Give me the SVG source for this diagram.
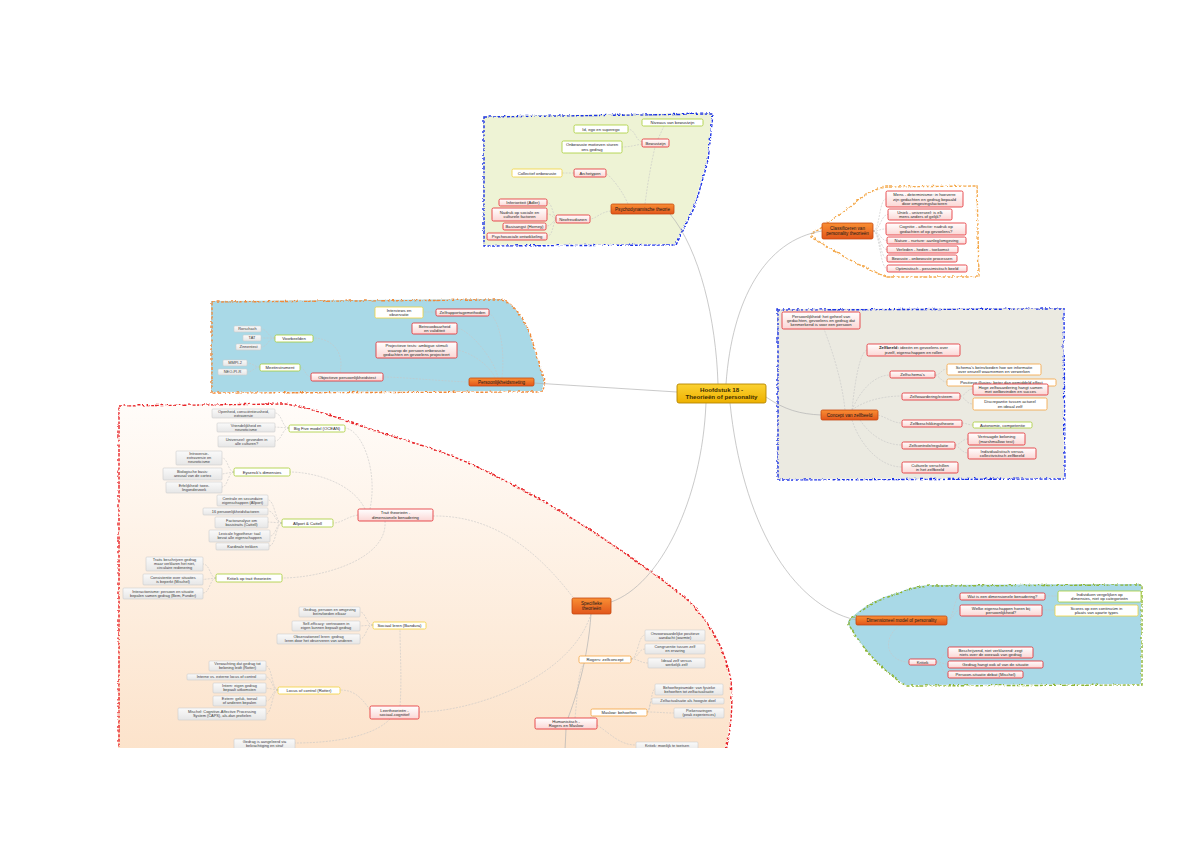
<svg xmlns="http://www.w3.org/2000/svg" width="1200" height="848" viewBox="0 0 1200 848">
<style>
text{font-family:"Liberation Sans",Arial,sans-serif;text-anchor:middle;fill:#262626;font-size:4.2px}
.m text{font-size:4.6px;fill:#1a1a1a}
.s text{font-size:3.9px;fill:#3a3a3a}
.red rect{fill:url(#gRed);stroke:#e2262b;stroke-width:0.8}
.grn rect{fill:#fff;stroke:#a6cd33;stroke-width:0.8}
.yel rect{fill:#fff;stroke:#f1d23a;stroke-width:0.8}
.org rect{fill:#fff;stroke:#f4a23c;stroke-width:0.8}
.s rect{fill:url(#gGray);stroke:#cdcdcd;stroke-width:0.6}
.m rect{fill:url(#gOrange);stroke:#c4480f;stroke-width:0.8}
.ctr rect{fill:url(#gGold);stroke:#b58700;stroke-width:0.9}
.ctr text{font-size:6.2px;font-weight:bold;fill:#3a2b00}
.c{fill:none;stroke:#c6c6c6;stroke-width:0.6;stroke-dasharray:2 1.2}
.cs{fill:none;stroke:#b3b3b3;stroke-width:0.7}
.bd{fill:none;stroke-width:1.4;stroke-dasharray:3 1.6;filter:url(#wave)}
</style>
<defs>
<linearGradient id="gRed" x1="0" y1="0" x2="0" y2="1"><stop offset="0" stop-color="#ffffff"/><stop offset="1" stop-color="#fbd6d4"/></linearGradient>
<linearGradient id="gGray" x1="0" y1="0" x2="0" y2="1"><stop offset="0" stop-color="#fafafa"/><stop offset="1" stop-color="#e6e6e6"/></linearGradient>
<linearGradient id="gOrange" x1="0" y1="0" x2="0" y2="1"><stop offset="0" stop-color="#f98f34"/><stop offset="1" stop-color="#e2561b"/></linearGradient>
<linearGradient id="gGold" x1="0" y1="0" x2="0" y2="1"><stop offset="0" stop-color="#fbd233"/><stop offset="1" stop-color="#eeb100"/></linearGradient>
<linearGradient id="gPeach" x1="0" y1="0" x2="0" y2="1"><stop offset="0" stop-color="#fffcf9"/><stop offset="1" stop-color="#fce3cb"/></linearGradient>
<filter id="wave" x="-5%" y="-5%" width="110%" height="110%"><feTurbulence type="turbulence" baseFrequency="0.25" numOctaves="1" seed="4" result="n"/><feDisplacementMap in="SourceGraphic" in2="n" scale="2" xChannelSelector="R" yChannelSelector="G"/></filter>
<clipPath id="page"><rect x="0" y="0" width="1200" height="748"/></clipPath>
</defs>
<rect x="0" y="0" width="1200" height="848" fill="#fff"/>
<g clip-path="url(#page)">
<g id="regions">
<path d="M483,116 L712,113 L707,160 L694,205 L675,244 L483,245 Z" fill="#eef3d5"/>
<path class="bd" d="M483,116 L712,113 L707,160 L694,205 L675,244 L483,245 Z" stroke="#1f35e6"/>
<path d="M811,233 Q840,214 858,199 Q870,189 885,186 L976,185 L978,276 L886,276 Q850,262 811,236 Z" fill="#fff"/>
<path class="bd" d="M811,233 Q840,214 858,199 Q870,189 885,186 L976,185 L978,276 L886,276 Q850,262 811,236 Z" stroke="#f4a94c"/>
<path d="M777,309 L1063,308 L1064,478 L777,479 Z" fill="#ebeae1"/>
<path class="bd" d="M777,309 L1063,308 L1064,478 L777,479 Z" stroke="#1f35e6"/>
<path d="M211,301 L500,299 Q515,302 528,330 L544,380 L542,391 L211,392 Z" fill="#a9d9e7"/>
<path class="bd" d="M211,301 L500,299 Q515,302 528,330 L544,380 L542,391 L211,392 Z" stroke="#f08a3a"/>
<path d="M848,621 Q868,600 900,592 Q912,586 930,585 L1141,584 L1141,684 L905,685 Q870,662 848,624 Z" fill="#a9d9e7"/>
<path class="bd" d="M848,621 Q868,600 900,592 Q912,586 930,585 L1141,584 L1141,684 L905,685 Q870,662 848,624 Z" stroke="#8db535"/>
<path d="M118,405 L285,403 Q320,410 345,420 Q380,432 410,441 Q440,450 470,463 Q540,496 600,536 Q660,576 690,602 Q722,636 730,680 Q733,715 725,750 L118,750 Z" fill="url(#gPeach)"/>
<path class="bd" d="M118,750 L118,405 L285,403 Q320,410 345,420 Q380,432 410,441 Q440,450 470,463 Q540,496 600,536 Q660,576 690,602 Q722,636 730,680 Q733,715 725,750" stroke="#e8262a"/>
</g>
<g id="connectors">
<path class="cs" d="M670,214 C700,250 716,320 718,384"/>
<path class="cs" d="M726,384 C732,300 765,240 822,231"/>
<path class="cs" d="M766,397 C785,410 800,414 821,415"/>
<path class="cs" d="M730,403 C742,520 790,605 856,620"/>
<path class="cs" d="M677,392 L534,383"/>
<path class="cs" d="M706,403 C702,500 660,585 611,602"/>
<path class="c" d="M645,204 C648,180 652,160 655,147"/>
<path class="c" d="M658,139 L664,126"/>
<path class="c" d="M642,142 C635,140 636,130 628,129"/>
<path class="c" d="M642,144 C636,145 630,147 622,147"/>
<path class="c" d="M628,204 C622,190 612,178 606,173"/>
<path class="c" d="M574,173 L562,173"/>
<path class="c" d="M611,211 C600,212 596,219 590,219"/>
<path class="c" d="M556,219 C552,212 552,203 547,202"/>
<path class="c" d="M556,219 C552,217 552,214 547,214"/>
<path class="c" d="M556,219 C552,222 552,226 546,226"/>
<path class="c" d="M556,219 C552,226 553,236 547,236"/>
<path class="c" d="M873,231 C880,231 879,199 886,199"/>
<path class="c" d="M873,231 C880,231 881,214.5 888,214.5"/>
<path class="c" d="M873,231 C880,231 879,229 886,229"/>
<path class="c" d="M873,231 C880,231 880,240.5 887,240.5"/>
<path class="c" d="M873,231 C880,231 880,249.5 887,249.5"/>
<path class="c" d="M873,231 C880,231 880,258.5 887,258.5"/>
<path class="c" d="M873,231 C880,231 880,268.5 887,268.5"/>
<path class="c" d="M845,410 C842,380 832,350 824,329"/>
<path class="c" d="M852,410 C855,380 860,352 867,350"/>
<path class="c" d="M852,410 C860,390 875,375 890,375"/>
<path class="c" d="M852,410 C865,400 885,396 902,396"/>
<path class="c" d="M878,415 C888,418 893,423 902,423"/>
<path class="c" d="M860,420 C870,435 885,445 902,445"/>
<path class="c" d="M852,420 C860,445 880,467 902,467"/>
<path class="c" d="M935,375 C941,375 941,369 947,369"/>
<path class="c" d="M935,375 C941,377 941,382 947,382"/>
<path class="c" d="M960,396 C966,396 966,389 973,389"/>
<path class="c" d="M960,396 C966,398 966,404 973,404"/>
<path class="c" d="M962,423 C966,423 968,425 973,425"/>
<path class="c" d="M955,445 C960,445 962,439 968,439"/>
<path class="c" d="M955,445 C960,447 962,453 968,453"/>
<path class="c" d="M469,382 C440,381 400,377 383,377"/>
<path class="c" d="M502,378 C505,350 500,320 489,313"/>
<path class="c" d="M498,378 C495,360 470,330 457,328"/>
<path class="c" d="M495,378 C490,365 470,352 457,350"/>
<path class="c" d="M436,312 L423,312"/>
<path class="c" d="M340,373 C345,350 330,338 313,338"/>
<path class="c" d="M311,377 C305,376 305,368 300,367"/>
<path class="c" d="M275,338 C268,338 268,329 261,329"/>
<path class="c" d="M275,338 L261,338"/>
<path class="c" d="M275,338 C268,338 268,347 261,347"/>
<path class="c" d="M260,367 C254,367 253,363 247,363"/>
<path class="c" d="M260,367 C254,367 253,372 247,372"/>
<path class="c" d="M947,620 C954,620 954,596 960,596"/>
<path class="c" d="M947,620 C954,620 954,610 960,610"/>
<path class="c" d="M900,625 C880,640 888,662 909,662"/>
<path class="c" d="M1045,596 L1058,596"/>
<path class="c" d="M1042,610 L1055,610"/>
<path class="c" d="M936,662 C942,662 942,652 948,652"/>
<path class="c" d="M936,662 C942,662 942,664 948,664"/>
<path class="c" d="M936,662 C942,662 942,674 948,674"/>
<path class="c" d="M433,516 C500,515 545,560 575,600"/>
<path class="c" d="M370,509 C378,470 362,430 345,428"/>
<path class="c" d="M365,509 C352,482 312,472 290,472"/>
<path class="c" d="M358,515 C346,517 342,523 333,523"/>
<path class="c" d="M385,521 C388,560 320,578 282,578"/>
<path class="c" d="M289,428 C282,428 282,413 275,413"/>
<path class="c" d="M289,428 L275,427"/>
<path class="c" d="M289,428 C282,428 282,441 275,441"/>
<path class="c" d="M234,472 C228,472 228,458 222,458"/>
<path class="c" d="M234,472 L222,474"/>
<path class="c" d="M234,472 C228,472 228,487 222,487"/>
<path class="c" d="M282,523 C275,523 275,500 268,500"/>
<path class="c" d="M282,523 C275,523 275,511 268,511"/>
<path class="c" d="M282,523 L268,522"/>
<path class="c" d="M282,523 C276,523 276,536 270,536"/>
<path class="c" d="M282,523 C276,523 276,546 269,546"/>
<path class="c" d="M216,578 C210,578 210,564 203,564"/>
<path class="c" d="M216,578 L203,579.5"/>
<path class="c" d="M216,578 C210,578 210,593 203,593"/>
<path class="c" d="M591,614 C570,680 470,712 419,712"/>
<path class="c" d="M400,706 C402,680 400,650 400,629"/>
<path class="c" d="M373,625 C366,625 366,612 360,612"/>
<path class="c" d="M373,625 L360,626"/>
<path class="c" d="M373,625 C366,625 366,639 360,639"/>
<path class="c" d="M370,710 C360,695 352,690 340,690"/>
<path class="c" d="M278,690 C272,690 272,666 266,666"/>
<path class="c" d="M278,690 C272,690 272,677 266,677"/>
<path class="c" d="M278,690 L266,688"/>
<path class="c" d="M278,690 C272,690 272,701 266,701"/>
<path class="c" d="M278,690 C272,690 272,714 266,714"/>
<path class="c" d="M390,719 C370,740 320,743 295,743"/>
<path class="cs" d="M591,614 C588,660 575,700 568,718"/>
<path class="cs" d="M566,729 L565,750"/>
<path class="c" d="M575,718 C578,690 578,668 585,663"/>
<path class="c" d="M590,718 C592,716 593,716 596,716"/>
<path class="c" d="M631,659 C638,659 638,635 645,635"/>
<path class="c" d="M631,659 C638,659 638,649 645,649"/>
<path class="c" d="M631,659 C639,659 640,663 648,663"/>
<path class="c" d="M647,712 C651,712 651,689 655,689"/>
<path class="c" d="M647,712 C650,712 649,701 652,701"/>
<path class="c" d="M647,712 C660,712 662,713 674,713"/>
<path class="c" d="M597,725 C612,735 620,745 636,745"/>
</g>
<g id="center" class="ctr"><rect x="677" y="384" width="89" height="19" rx="2"/><text x="721.5" y="392.3">Hoofdstuk 18 -</text><text x="721.5" y="399.1">Theorieën of personality</text></g>
<g id="g_main" class="m"><rect x="611" y="204" width="63" height="10" rx="1.5"/><text x="642.5" y="210.6">Psychodynamische theorie</text></g>
<g id="g_bew" class="red"><rect x="642" y="139" width="27" height="8" rx="1.5"/><text x="655.5" y="144.5">Bewustzijn</text></g>
<g id="g_afw" class="grn"><rect x="642" y="119" width="61" height="7" rx="1.5"/><text x="672.5" y="124">Niveaus van bewustzijn</text></g>
<g id="g_struc" class="grn"><rect x="574" y="125" width="54" height="8" rx="1.5"/><text x="601" y="130.5">Id, ego en superego</text></g>
<g id="g_onb" class="grn"><rect x="562" y="141" width="60" height="12" rx="1.5"/><text x="592" y="146.3">Onbewuste motieven sturen</text><text x="592" y="150.7">ons gedrag</text></g>
<g id="g_arch" class="red"><rect x="574" y="169" width="32" height="8" rx="1.5"/><text x="590" y="174.5">Archetypen</text></g>
<g id="g_coll" class="yel"><rect x="512" y="169" width="50" height="8" rx="1.5"/><text x="537" y="174.5">Collectief onbewuste</text></g>
<g id="g_neo" class="red"><rect x="556" y="215" width="34" height="8" rx="1.5"/><text x="573" y="220.5">Neofreudianen</text></g>
<g id="g_inf" class="red"><rect x="499" y="199" width="48" height="7" rx="1.5"/><text x="523" y="204">Inferioriteit (Adler)</text></g>
<g id="g_soc" class="red"><rect x="492" y="208" width="55" height="13" rx="1.5"/><text x="519.5" y="213.8">Nadruk op sociale en</text><text x="519.5" y="218.2">culturele factoren</text></g>
<g id="g_hor" class="red"><rect x="503" y="223" width="43" height="7" rx="1.5"/><text x="524.5" y="228">Basisangst (Horney)</text></g>
<g id="g_eri" class="red"><rect x="487" y="233" width="60" height="7" rx="1.5"/><text x="517" y="238">Psychosociale ontwikkeling</text></g>
<g id="o_main" class="m"><rect x="822" y="223" width="51" height="16" rx="1.5"/><text x="847.5" y="230.3">Classificeren van</text><text x="847.5" y="234.9">personality theorieën</text></g>
<g id="o_1" class="red"><rect x="886" y="191" width="77" height="16" rx="1.5"/><text x="924.5" y="196.1">Mens - determinisme: in hoeverre</text><text x="924.5" y="200.5">zijn gedachten en gedrag bepaald</text><text x="924.5" y="204.9">door omgevingsfactoren</text></g>
<g id="o_2" class="red"><rect x="888" y="209" width="64" height="11" rx="1.5"/><text x="920" y="213.8">Uniek - universeel: is elk</text><text x="920" y="218.2">mens anders of gelijk?</text></g>
<g id="o_3" class="red"><rect x="886" y="223" width="80" height="12" rx="1.5"/><text x="926" y="228.3">Cognitie - affectie: nadruk op</text><text x="926" y="232.7">gedachten of op gevoelens?</text></g>
<g id="o_4" class="red"><rect x="887" y="237" width="79" height="7" rx="1.5"/><text x="926.5" y="242">Nature - nurture: aanleg/omgeving</text></g>
<g id="o_5" class="red"><rect x="887" y="246" width="71" height="7" rx="1.5"/><text x="922.5" y="251">Verleden - heden - toekomst</text></g>
<g id="o_6" class="red"><rect x="887" y="255" width="70" height="7" rx="1.5"/><text x="922" y="260">Bewuste - onbewuste processen</text></g>
<g id="o_7" class="red"><rect x="887" y="265" width="80" height="7" rx="1.5"/><text x="927" y="270">Optimistisch - pessimistisch beeld</text></g>
<g id="c_main" class="m"><rect x="821" y="410" width="57" height="10" rx="1.5"/><text x="849.5" y="416.6">Concept van zelfbeeld</text></g>
<g id="c_pers" class="red"><rect x="782" y="312" width="78" height="17" rx="1.5"/><text x="821" y="317.6">Persoonlijkheid: het geheel van</text><text x="821" y="322">gedachten, gevoelens en gedrag dat</text><text x="821" y="326.4">kenmerkend is voor een persoon</text></g>
<g id="c_zb" class="red"><rect x="867" y="344" width="93" height="12" rx="1.5"/><text x="913.5" y="349.3"><tspan font-weight="bold">Zelfbeeld:</tspan> ideeën en gevoelens over</text><text x="913.5" y="353.7">jezelf, eigenschappen en rollen</text></g>
<g id="c_sch" class="red"><rect x="890" y="371" width="45" height="7" rx="1.5"/><text x="912.5" y="376">Zelfschema's</text></g>
<g id="c_zw" class="red"><rect x="902" y="393" width="58" height="7" rx="1.5"/><text x="931" y="398">Zelfwaardering/esteem</text></g>
<g id="c_zbs" class="red"><rect x="902" y="420" width="60" height="7" rx="1.5"/><text x="932" y="425">Zelfbeschikkingstheorie</text></g>
<g id="c_zr" class="red"><rect x="902" y="442" width="53" height="7" rx="1.5"/><text x="928.5" y="447">Zelfcontrole/regulatie</text></g>
<g id="c_cul" class="red"><rect x="902" y="462" width="56" height="11" rx="1.5"/><text x="930" y="466.8">Culturele verschillen</text><text x="930" y="471.2">in het zelfbeeld</text></g>
<g id="c_s1" class="org"><rect x="947" y="364" width="94" height="11" rx="1.5"/><text x="994" y="368.8">Schema's beïnvloeden hoe we informatie</text><text x="994" y="373.2">over onszelf waarnemen en verwerken</text></g>
<g id="c_s2" class="org"><rect x="947" y="379" width="109" height="7" rx="1.5"/><text x="1001.5" y="384">Positieve illusies: beter dan gemiddeld effect</text></g>
<g id="c_z1" class="red"><rect x="973" y="384" width="75" height="11" rx="1.5"/><text x="1010.5" y="388.8">Hoge zelfwaardering hangt samen</text><text x="1010.5" y="393.2">met welbevinden en succes</text></g>
<g id="c_z2" class="org"><rect x="973" y="398" width="74" height="12" rx="1.5"/><text x="1010" y="403.3">Discrepantie tussen actueel</text><text x="1010" y="407.7">en ideaal zelf</text></g>
<g id="c_aut" class="grn"><rect x="973" y="422" width="59" height="6" rx="1.5"/><text x="1002.5" y="426.5">Autonomie, competentie</text></g>
<g id="c_u1" class="red"><rect x="968" y="433" width="57" height="12" rx="1.5"/><text x="996.5" y="438.3">Vertraagde beloning</text><text x="996.5" y="442.7">(marshmallow test)</text></g>
<g id="c_u2" class="red"><rect x="968" y="448" width="68" height="11" rx="1.5"/><text x="1002" y="452.8">Individualistisch versus</text><text x="1002" y="457.2">collectivistisch zelfbeeld</text></g>
<g id="l_main" class="m"><rect x="469" y="378" width="65" height="8" rx="1.5"/><text x="501.5" y="383.6">Persoonlijkheidsmeting</text></g>
<g id="l_zr" class="red"><rect x="436" y="309" width="53" height="7" rx="1.5"/><text x="462.5" y="314">Zelfrapportagemethoden</text></g>
<g id="l_int" class="yel"><rect x="375" y="307" width="48" height="11" rx="1.5"/><text x="399" y="311.8">Interviews en</text><text x="399" y="316.2">observatie</text></g>
<g id="l_bv" class="red"><rect x="412" y="323" width="45" height="11" rx="1.5"/><text x="434.5" y="327.8">Betrouwbaarheid</text><text x="434.5" y="332.2">en validiteit</text></g>
<g id="l_proj" class="red"><rect x="376" y="342" width="81" height="16" rx="1.5"/><text x="416.5" y="347.1">Projectieve tests: ambigue stimuli</text><text x="416.5" y="351.5">waarop de persoon onbewuste</text><text x="416.5" y="355.9">gedachten en gevoelens projecteert</text></g>
<g id="l_obj" class="red"><rect x="311" y="373" width="72" height="8" rx="1.5"/><text x="347" y="378.5">Objectieve persoonlijkheidstest</text></g>
<g id="l_pt" class="grn"><rect x="275" y="335" width="38" height="7" rx="1.5"/><text x="294" y="340">Voorbeelden</text></g>
<g id="l_vb" class="grn"><rect x="260" y="364" width="40" height="7" rx="1.5"/><text x="280" y="369">Meetinstrument</text></g>
<g id="l_g1" class="s"><rect x="234" y="326" width="27" height="6" rx="1"/><text x="247.5" y="330.3">Rorschach</text></g>
<g id="l_g2" class="s"><rect x="243" y="335" width="18" height="6" rx="1"/><text x="252" y="339.3">TAT</text></g>
<g id="l_g3" class="s"><rect x="236" y="344" width="25" height="6" rx="1"/><text x="248.5" y="348.3">Zinnentest</text></g>
<g id="l_g4" class="s"><rect x="223" y="360" width="24" height="6" rx="1"/><text x="235" y="364.3">MMPI-2</text></g>
<g id="l_g5" class="s"><rect x="218" y="369" width="29" height="6" rx="1"/><text x="232.5" y="373.3">NEO-PI-R</text></g>
<g id="d_main" class="m"><rect x="856" y="616" width="91" height="9" rx="1.5"/><text x="901.5" y="622.1">Dimensioneel model of personality</text></g>
<g id="d_w1" class="red"><rect x="960" y="593" width="85" height="7" rx="1.5"/><text x="1002.5" y="598">Wat is een dimensionele benadering?</text></g>
<g id="d_w2" class="red"><rect x="960" y="605" width="82" height="11" rx="1.5"/><text x="1001" y="609.8">Welke eigenschappen horen bij</text><text x="1001" y="614.2">persoonlijkheid?</text></g>
<g id="d_g1" class="grn"><rect x="1058" y="591" width="83" height="11" rx="1.5"/><text x="1099.5" y="595.8">Individuen vergelijken op</text><text x="1099.5" y="600.2">dimensies, niet op categorieën</text></g>
<g id="d_y1" class="yel"><rect x="1055" y="605" width="83" height="11" rx="1.5"/><text x="1096.5" y="609.8">Scores op een continuüm in</text><text x="1096.5" y="614.2">plaats van aparte types</text></g>
<g id="d_kr" class="red"><rect x="909" y="659" width="27" height="6" rx="1.5"/><text x="922.5" y="663.5">Kritiek</text></g>
<g id="d_k1" class="red"><rect x="948" y="647" width="85" height="11" rx="1.5"/><text x="990.5" y="651.8">Beschrijvend, niet verklarend: zegt</text><text x="990.5" y="656.2">niets over de oorzaak van gedrag</text></g>
<g id="d_k2" class="red"><rect x="948" y="661" width="95" height="7" rx="1.5"/><text x="995.5" y="666">Gedrag hangt ook af van de situatie</text></g>
<g id="d_k3" class="red"><rect x="948" y="671" width="75" height="7" rx="1.5"/><text x="985.5" y="676">Persoon-situatie debat (Mischel)</text></g>
<g id="b_spec" class="m"><rect x="572" y="598" width="39" height="16" rx="1.5"/><text x="591.5" y="605.3">Specifieke</text><text x="591.5" y="609.9">theorieën</text></g>
<g id="b_trait" class="red"><rect x="358" y="509" width="75" height="12" rx="1.5"/><text x="395.5" y="514.3">Trait theorieën -</text><text x="395.5" y="518.7">dimensionele benadering</text></g>
<g id="b_big" class="grn"><rect x="289" y="425" width="56" height="7" rx="1.5"/><text x="317" y="430">Big Five model (OCEAN)</text></g>
<g id="b_big1" class="s"><rect x="212" y="409" width="63" height="9" rx="1"/><text x="243.5" y="412.9">Openheid, consciëntieusheid,</text><text x="243.5" y="416.9">extraversie</text></g>
<g id="b_big2" class="s"><rect x="217" y="423" width="58" height="9" rx="1"/><text x="246" y="426.9">Vriendelijkheid en</text><text x="246" y="430.9">neuroticisme</text></g>
<g id="b_big3" class="s"><rect x="218" y="436" width="57" height="11" rx="1"/><text x="246.5" y="440.9">Universeel: gevonden in</text><text x="246.5" y="444.9">alle culturen?</text></g>
<g id="b_eys" class="grn"><rect x="234" y="468" width="56" height="8" rx="1.5"/><text x="262" y="473.5">Eysenck's dimensies</text></g>
<g id="b_e1" class="s"><rect x="176" y="451" width="46" height="14" rx="1"/><text x="199" y="455.4">Introversie-</text><text x="199" y="459.4">extraversie en</text><text x="199" y="463.4">neuroticisme</text></g>
<g id="b_e2" class="s"><rect x="163" y="468" width="59" height="12" rx="1"/><text x="192.5" y="473.4">Biologische basis:</text><text x="192.5" y="477.4">arousal van de cortex</text></g>
<g id="b_e3" class="s"><rect x="166" y="482" width="56" height="11" rx="1"/><text x="194" y="486.9">Erfelijkheid: twee-</text><text x="194" y="490.9">lingonderzoek</text></g>
<g id="b_all" class="grn"><rect x="282" y="519" width="51" height="8" rx="1.5"/><text x="307.5" y="524.5">Allport &amp; Cattell</text></g>
<g id="b_a1" class="s"><rect x="217" y="495" width="51" height="11" rx="1"/><text x="242.5" y="499.9">Centrale en secundaire</text><text x="242.5" y="503.9">eigenschappen (Allport)</text></g>
<g id="b_a2" class="s"><rect x="203" y="508" width="65" height="7" rx="1"/><text x="235.5" y="512.9">16 persoonlijkheidsfactoren</text></g>
<g id="b_a3" class="s"><rect x="215" y="517" width="53" height="11" rx="1"/><text x="241.5" y="521.9">Factoranalyse om</text><text x="241.5" y="525.9">basistraits (Cattell)</text></g>
<g id="b_a4" class="s"><rect x="209" y="530" width="61" height="12" rx="1"/><text x="239.5" y="535.4">Lexicale hypothese: taal</text><text x="239.5" y="539.4">bevat alle eigenschappen</text></g>
<g id="b_a5" class="s"><rect x="216" y="543" width="53" height="7" rx="1"/><text x="242.5" y="547.9">Kardinale trekken</text></g>
<g id="b_kr" class="grn"><rect x="216" y="574" width="66" height="8" rx="1.5"/><text x="249" y="579.5">Kritiek op trait theorieën</text></g>
<g id="b_k1" class="s"><rect x="146" y="557" width="57" height="14" rx="1"/><text x="174.5" y="561.4">Traits beschrijven gedrag</text><text x="174.5" y="565.4">maar verklaren het niet,</text><text x="174.5" y="569.4">circulaire redenering</text></g>
<g id="b_k2" class="s"><rect x="143" y="574" width="60" height="11" rx="1"/><text x="173" y="578.9">Consistentie over situaties</text><text x="173" y="582.9">is beperkt (Mischel)</text></g>
<g id="b_k3" class="s"><rect x="123" y="588" width="80" height="11" rx="1"/><text x="163" y="592.9">Interactionisme: persoon en situatie</text><text x="163" y="596.9">bepalen samen gedrag (Bem, Funder)</text></g>
<g id="b_leer" class="red"><rect x="370" y="706" width="49" height="13" rx="1.5"/><text x="394.5" y="711.8">Leertheorieën -</text><text x="394.5" y="716.2">sociaal-cognitief</text></g>
<g id="b_soc" class="yel"><rect x="373" y="622" width="53" height="7" rx="1.5"/><text x="399.5" y="627">Sociaal leren (Bandura)</text></g>
<g id="b_s1" class="s"><rect x="299" y="607" width="61" height="10" rx="1"/><text x="329.5" y="611.4">Gedrag, persoon en omgeving</text><text x="329.5" y="615.4">beïnvloeden elkaar</text></g>
<g id="b_s2" class="s"><rect x="292" y="621" width="68" height="10" rx="1"/><text x="326" y="625.4">Self-efficacy: vertrouwen in</text><text x="326" y="629.4">eigen kunnen bepaalt gedrag</text></g>
<g id="b_s3" class="s"><rect x="277" y="634" width="83" height="10" rx="1"/><text x="318.5" y="638.4">Observationeel leren: gedrag</text><text x="318.5" y="642.4">leren door het observeren van anderen</text></g>
<g id="b_loc" class="yel"><rect x="278" y="687" width="62" height="7" rx="1.5"/><text x="309" y="692">Locus of control (Rotter)</text></g>
<g id="b_l1" class="s"><rect x="209" y="661" width="57" height="10" rx="1"/><text x="237.5" y="665.4">Verwachting dat gedrag tot</text><text x="237.5" y="669.4">beloning leidt (Rotter)</text></g>
<g id="b_l2" class="s"><rect x="187" y="674" width="79" height="6" rx="1"/><text x="226.5" y="678.4">Interne vs. externe locus of control</text></g>
<g id="b_l3" class="s"><rect x="213" y="683" width="53" height="10" rx="1"/><text x="239.5" y="687.4">Intern: eigen gedrag</text><text x="239.5" y="691.4">bepaalt uitkomsten</text></g>
<g id="b_l4" class="s"><rect x="213" y="696" width="53" height="10" rx="1"/><text x="239.5" y="700.4">Extern: geluk, toeval</text><text x="239.5" y="704.4">of anderen bepalen</text></g>
<g id="b_l5" class="s"><rect x="178" y="708" width="88" height="12" rx="1"/><text x="222" y="713.4">Mischel: Cognitive-Affective Processing</text><text x="222" y="717.4">System (CAPS), als-dan profielen</text></g>
<g id="b_gb1" class="s"><rect x="234" y="739" width="61" height="12" rx="1"/><text x="264.5" y="743.4">Gedrag is aangeleerd via</text><text x="264.5" y="747.4">bekrachtiging en straf</text></g>
<g id="b_hum" class="red"><rect x="535" y="718" width="62" height="11" rx="1.5"/><text x="566" y="722.8">Humanistisch -</text><text x="566" y="727.2">Rogers en Maslow</text></g>
<g id="b_ro" class="org"><rect x="579" y="656" width="52" height="7" rx="1.5"/><text x="605" y="661">Rogers: zelfconcept</text></g>
<g id="b_ro1" class="s"><rect x="645" y="630" width="60" height="11" rx="1"/><text x="675" y="634.9">Onvoorwaardelijke positieve</text><text x="675" y="638.9">aandacht (warmte)</text></g>
<g id="b_ro2" class="s"><rect x="645" y="644" width="60" height="10" rx="1"/><text x="675" y="648.4">Congruentie tussen zelf</text><text x="675" y="652.4">en ervaring</text></g>
<g id="b_ro3" class="s"><rect x="648" y="658" width="57" height="10" rx="1"/><text x="676.5" y="662.4">Ideaal zelf versus</text><text x="676.5" y="666.4">werkelijk zelf</text></g>
<g id="b_ma" class="org"><rect x="591" y="709" width="56" height="7" rx="1.5"/><text x="619" y="714">Maslow: behoeften</text></g>
<g id="b_ma1" class="s"><rect x="655" y="684" width="68" height="11" rx="1"/><text x="689" y="688.9">Behoeftepiramide: van fysieke</text><text x="689" y="692.9">behoeften tot zelfactualisatie</text></g>
<g id="b_ma2" class="s"><rect x="652" y="698" width="72" height="6" rx="1"/><text x="688" y="702.4">Zelfactualisatie als hoogste doel</text></g>
<g id="b_ma3" class="s"><rect x="674" y="708" width="50" height="10" rx="1"/><text x="699" y="712.4">Piekervaringen</text><text x="699" y="716.4">(peak experiences)</text></g>
<g id="b_gb2" class="s"><rect x="636" y="742" width="62" height="9" rx="1"/><text x="667" y="746.6">Kritiek: moeilijk te toetsen</text></g>
</g>
</svg>
